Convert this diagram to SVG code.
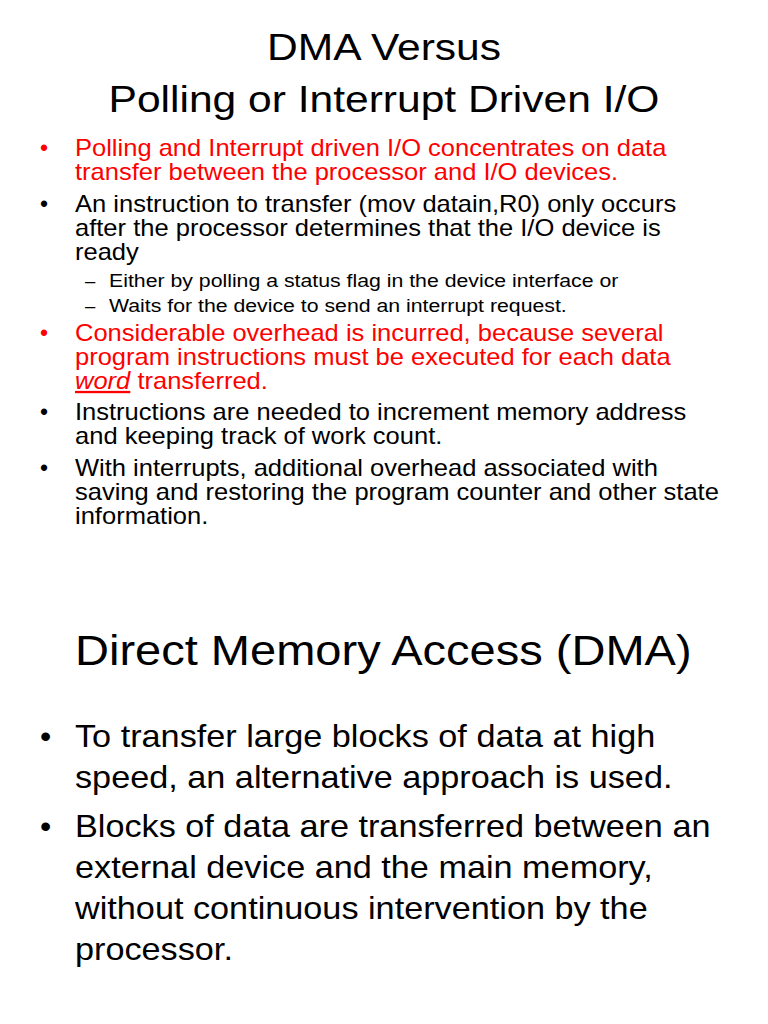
<svg xmlns="http://www.w3.org/2000/svg" width="768" height="1024" viewBox="0 0 768 1024">
<style>
text{font-family:"Liberation Sans",Arial,sans-serif;fill:#000}
.t{font-size:37px;text-anchor:middle}
.b{font-size:23px}
.s{font-size:18.5px}
.r{fill:#f00}
.h{font-size:42px}
.B{font-size:32px}
</style>
<rect width="768" height="1024" fill="#fff"/>
<g transform="translate(384 0) scale(1.15 1)">
<text class="t" x="0" y="60">DMA Versus</text>
<text class="t" x="0" y="112">Polling or Interrupt Driven I/O</text>
</g>
<text class="b r" x="40" y="156">•</text>
<text class="b" x="40" y="212">•</text>
<text class="s" x="85" y="287">–</text>
<text class="s" x="85" y="312">–</text>
<text class="b r" x="40" y="341">•</text>
<text class="b" x="40" y="420">•</text>
<text class="b" x="40" y="476">•</text>
<g transform="translate(75 0) scale(1.11 1)">
<text class="b r" x="0" y="156">Polling and Interrupt driven I/O concentrates on data</text>
<text class="b r" x="0" y="180">transfer between the processor and I/O devices.</text>
<text class="b" x="0" y="212">An instruction to transfer (mov datain,R0) only occurs</text>
<text class="b" x="0" y="236">after the processor determines that the I/O device is</text>
<text class="b" x="0" y="260">ready</text>
<text class="b r" x="0" y="341">Considerable overhead is incurred, because several</text>
<text class="b r" x="0" y="365">program instructions must be executed for each data</text>
<text class="b r" x="0" y="389"><tspan font-style="italic" text-decoration="underline">word</tspan>  transferred.</text>
<text class="b" x="0" y="420">Instructions are needed to increment memory address</text>
<text class="b" x="0" y="444">and keeping track of work count.</text>
<text class="b" x="0" y="476">With interrupts, additional overhead associated with</text>
<text class="b" x="0" y="500">saving and restoring the program counter and other state</text>
<text class="b" x="0" y="524">information.</text>
</g>
<g transform="translate(109 0) scale(1.15 1)">
<text class="s" x="0" y="287">Either by polling a status flag in the device interface or</text>
<text class="s" x="0" y="312">Waits for the device to send an interrupt request.</text>
</g>
<g transform="translate(75 0) scale(1.12 1)">
<text class="h" x="0" y="665">Direct Memory Access (DMA)</text>
</g>
<text class="B" x="40" y="747">•</text>
<text class="B" x="40" y="837">•</text>
<g transform="translate(75 0) scale(1.07 1)">
<text class="B" x="0" y="747">To transfer large blocks of data at high</text>
<text class="B" x="0" y="788">speed, an alternative approach is used.</text>
<text class="B" x="0" y="837">Blocks of data are transferred between an</text>
<text class="B" x="0" y="878">external device and the main memory,</text>
<text class="B" x="0" y="919">without continuous intervention by the</text>
<text class="B" x="0" y="960">processor.</text>
</g>
</svg>
